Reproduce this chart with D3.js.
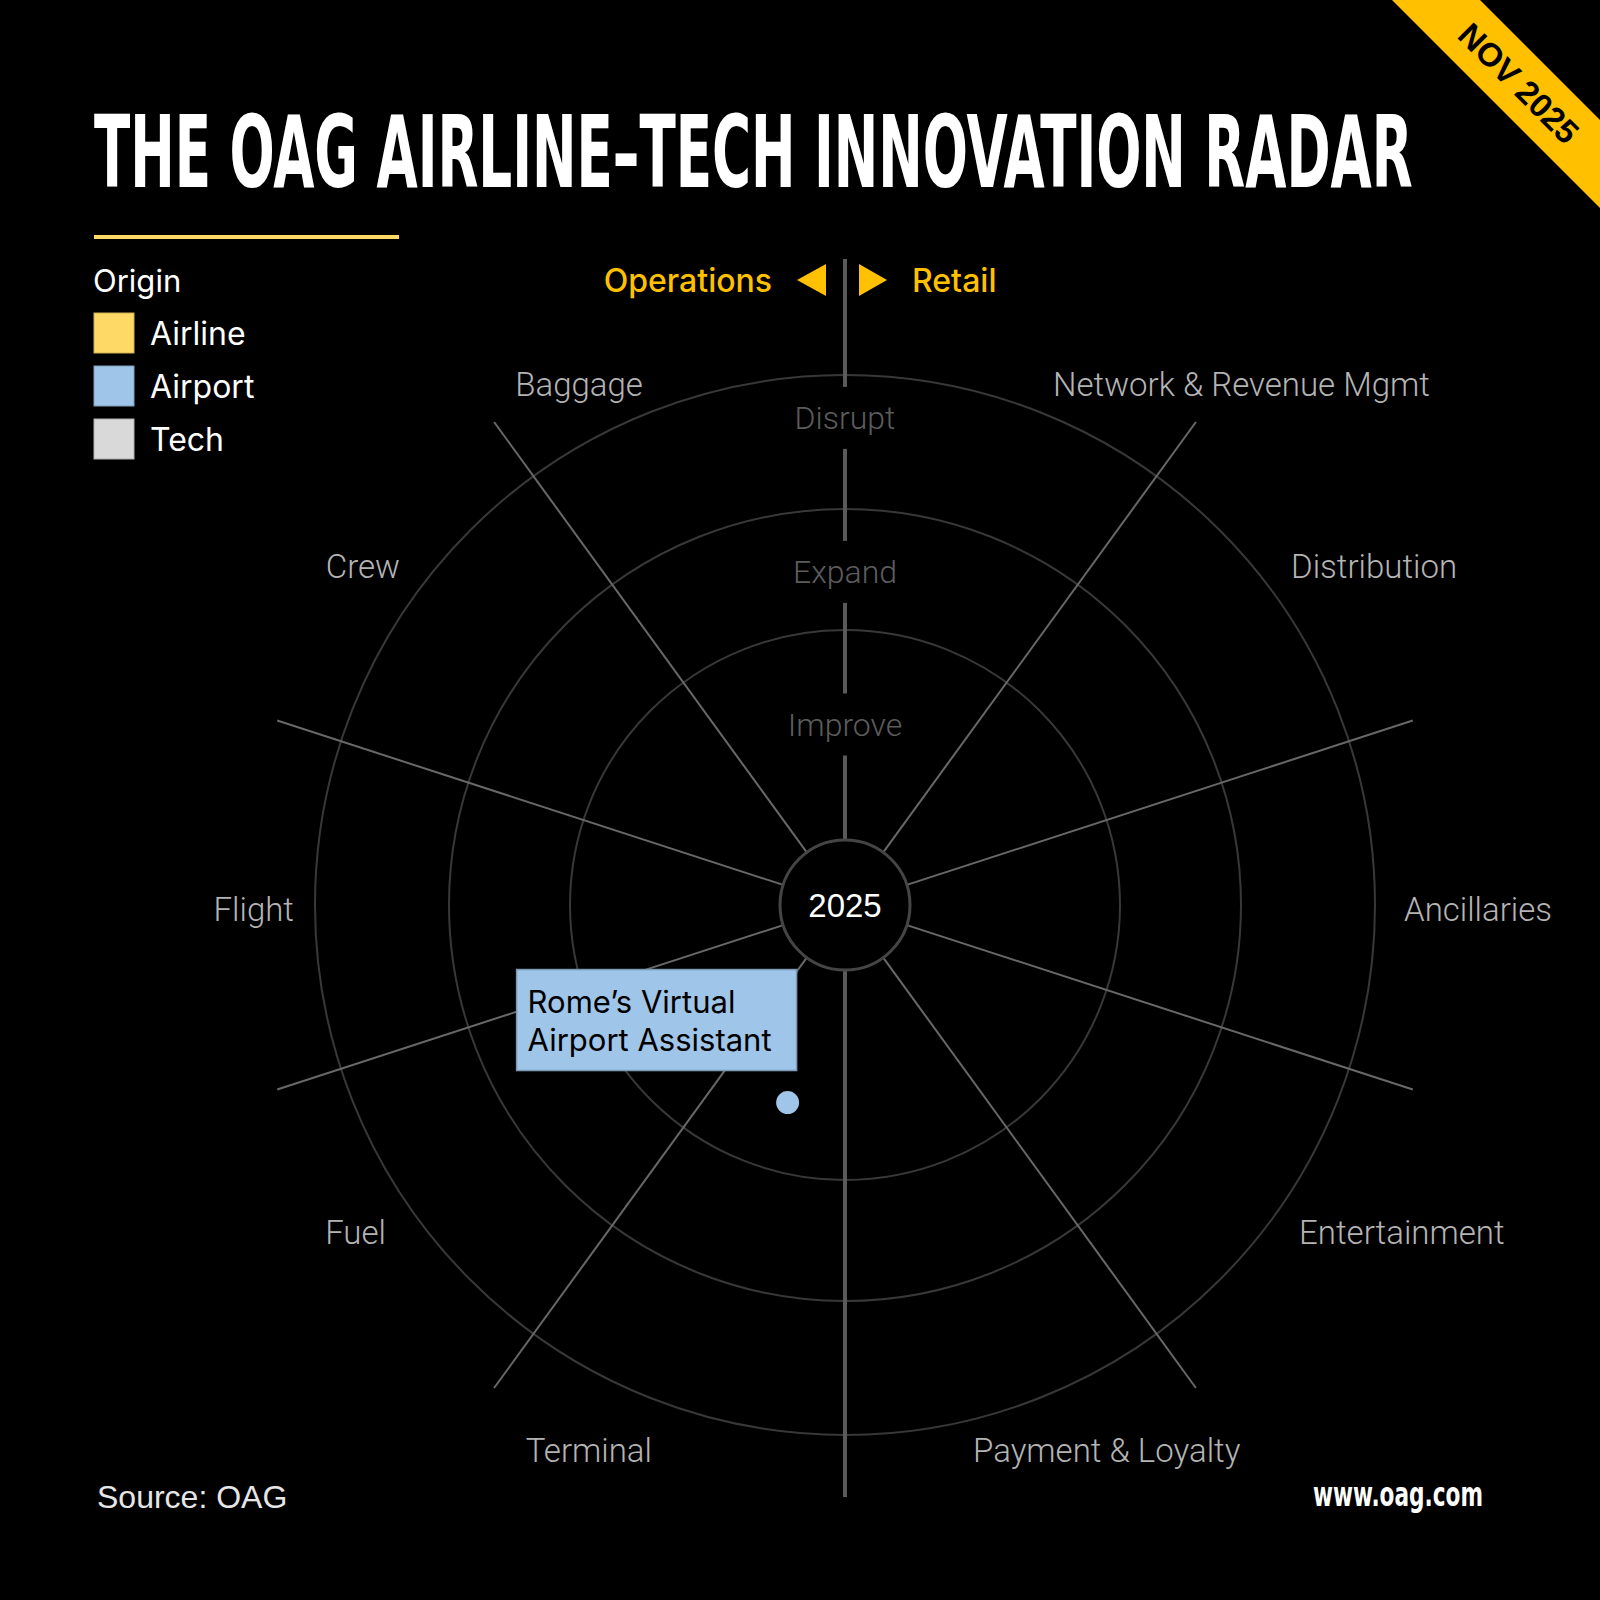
<!DOCTYPE html>
<html>
<head>
<meta charset="utf-8">
<script src="https://cdn.jsdelivr.net/npm/d3@7"></script>
<style>
  html, body { margin: 0; padding: 0; background: #000; }
  svg { display: block; }
</style>
</head>
<body>
<div id="chart"></div>
<script>
// ---------------- DATA ----------------
const categories = ["Network & Revenue Mgmt", "Distribution", "Ancillaries", "Entertainment",
  "Payment & Loyalty", "Terminal", "Fuel", "Flight", "Crew", "Baggage"];
const levels = ["Improve", "Expand", "Disrupt"];
const origins = ["Airline", "Airport", "Tech"];
const originColors = ["#FFD966", "#9FC5E8", "#D9D9D9"];
const sides = ["Operations", "Retail"];
const radarYear = ["2025"];
const edition = ["NOV 2025"];

const innovationNames = [["Rome’s Virtual", "Airport Assistant"]];
const innovationCategory = ["Terminal"];
const innovationOrigin = ["Airport"];
const innovationLevel = [0.67];   // 0..3 from centre outward across levels
const innovationSpread = [0.45];  // position inside its category sector

// ---------------- LAYOUT ----------------
const W = 1600, H = 1600;
const cx = 845, cy = 905;
const hubR = 65;
const svg = d3.select("#chart").append("svg").attr("width", W).attr("height", H)
  .style("background", "#000");

const angle = d3.scaleBand().domain(categories).range([0, 360]).paddingInner(0).paddingOuter(0);
const radius = d3.scaleLinear().domain([0, 1, 2, 3]).range([hubR, 275, 396, 530]);
const polar = (deg, r) => {
  const a = deg * Math.PI / 180;
  return [cx + r * Math.sin(a), cy - r * Math.cos(a)];
};

const fontLight = "Roboto, 'Helvetica Neue', Arial, sans-serif";
const fontUI = "Inter, 'Noto Sans', Arial, sans-serif";
const fontArial = "'Liberation Sans', Arial, sans-serif";
const fontCond = "'Liberation Sans Narrow', 'DejaVu Sans Condensed', 'Roboto Condensed', sans-serif";

// ---------------- TITLE ----------------
const titleG = svg.append("g");
const title = titleG.append("text")
  .attr("x", 0).attr("y", 0)
  .attr("font-family", fontCond).attr("font-weight", 700).attr("font-size", 100)
  .attr("fill", "#fff")
  .text("THE OAG AIRLINE–TECH INNOVATION RADAR");
const tw = title.node().getComputedTextLength() || 1319;
titleG.attr("transform", `translate(94,187) scale(${1319 / tw},1)`);

svg.append("rect").attr("x", 94).attr("y", 235).attr("width", 305).attr("height", 4)
  .attr("fill", "#FFD966");

// ribbon
svg.append("polygon")
  .attr("points", "1392,0 1480,0 1600,120 1600,208")
  .attr("fill", "#FFC000");
svg.append("text")
  .attr("transform", "translate(1519,83) rotate(45)")
  .attr("text-anchor", "middle").attr("dy", "0.36em")
  .attr("font-family", fontArial).attr("font-weight", 700).attr("font-size", 33)
  .attr("fill", "#000")
  .text(edition[0]);

// ---------------- LEGEND ----------------
svg.append("text").attr("x", 93).attr("y", 292)
  .attr("font-family", fontUI).attr("font-size", 31).attr("fill", "#fff").text("Origin");
const leg = svg.append("g").selectAll("g").data(origins).join("g")
  .attr("transform", (d, i) => `translate(94, ${313 + i * 53})`);
leg.append("rect").attr("width", 40).attr("height", 40)
  .attr("fill", (d, i) => originColors[i])
  .attr("stroke", (d, i) => d3.color(originColors[i]).darker(0.6)).attr("stroke-width", 1);
leg.append("text").attr("x", 56).attr("y", 32)
  .attr("font-family", fontUI).attr("font-size", 32).attr("fill", "#fff").text(d => d);

// ---------------- RADAR GRID ----------------
const grid = svg.append("g");
grid.selectAll("circle.ring").data([1, 2, 3]).join("circle")
  .attr("class", "ring")
  .attr("cx", cx).attr("cy", cy).attr("r", d => radius(d))
  .attr("fill", "none").attr("stroke", "#383838").attr("stroke-width", 2);

// thin spokes at sector boundaries (except the vertical divider)
const spokeLen = 597;
const spokeAngles = categories.map(c => angle(c)).filter(a => a % 180 !== 0);
grid.selectAll("line.spoke").data(spokeAngles).join("line")
  .attr("class", "spoke")
  .attr("x1", d => polar(d, hubR)[0]).attr("y1", d => polar(d, hubR)[1])
  .attr("x2", d => polar(d, spokeLen)[0]).attr("y2", d => polar(d, spokeLen)[1])
  .attr("stroke", "#686868").attr("stroke-width", 2);

// vertical divider with gaps for level labels
const levelLabelAt = [0.55, 1.48, 2.68];
const gapHalf = 31;
const topEnd = 646, bottomEnd = 592;
const stops = [hubR];
levelLabelAt.forEach(v => { stops.push(radius(v) - gapHalf, radius(v) + gapHalf); });
stops.push(topEnd);
const segs = [];
for (let i = 0; i < stops.length; i += 2) segs.push([stops[i], stops[i + 1]]);
segs.push([-hubR, -bottomEnd]);
grid.selectAll("line.divider").data(segs).join("line")
  .attr("class", "divider")
  .attr("x1", cx).attr("x2", cx)
  .attr("y1", d => cy - d[0]).attr("y2", d => cy - d[1])
  .attr("stroke", "#5a5a5a").attr("stroke-width", 4);

// level labels
grid.selectAll("text.level").data(levels).join("text")
  .attr("class", "level")
  .attr("x", cx).attr("y", (d, i) => cy - radius(levelLabelAt[i]))
  .attr("dy", "0.36em").attr("text-anchor", "middle")
  .attr("font-family", fontLight).attr("font-weight", 300).attr("font-size", 32)
  .attr("fill", "#5c5c5c").text(d => d);

// category labels
const labelR = 560;
const labelNudge = {
  "Network & Revenue Mgmt": [35, 12], "Distribution": [-7, -10], "Ancillaries": [-1, 4],
  "Entertainment": [1, -2], "Payment & Loyalty": [-45, 13], "Terminal": [-20, 13],
  "Fuel": [-6, -2], "Flight": [9, 4], "Crew": [8, -10], "Baggage": [-29, 12]
};
grid.selectAll("text.cat").data(categories).join("text")
  .attr("class", "cat")
  .each(function (d) {
    const mid = angle(d) + angle.bandwidth() / 2;
    const p = polar(mid, labelR);
    const n = labelNudge[d] || [0, 0];
    d3.select(this)
      .attr("x", p[0] + n[0]).attr("y", p[1] + n[1])
      .attr("text-anchor", mid < 180 ? "start" : "end");
  })
  .attr("dy", "0.36em")
  .attr("font-family", fontLight).attr("font-weight", 300).attr("font-size", 33)
  .attr("fill", "#b4b4b4").text(d => d);

// hub
grid.append("circle").attr("cx", cx).attr("cy", cy).attr("r", hubR)
  .attr("fill", "#000").attr("stroke", "#454545").attr("stroke-width", 3);
grid.append("text").attr("x", cx).attr("y", cy).attr("dy", "0.36em")
  .attr("text-anchor", "middle")
  .attr("font-family", fontArial).attr("font-size", 33).attr("fill", "#fff")
  .text(radarYear[0]);

// Operations / Retail header
svg.append("text").attr("x", 772).attr("y", 292).attr("text-anchor", "end")
  .attr("font-family", fontUI).attr("font-weight", 500).attr("font-size", 32)
  .attr("fill", "#FFC000").text(sides[0]);
svg.append("text").attr("x", 912).attr("y", 292).attr("text-anchor", "start")
  .attr("font-family", fontUI).attr("font-weight", 500).attr("font-size", 32)
  .attr("fill", "#FFC000").text(sides[1]);
svg.append("polygon").attr("points", `${cx - 48},280 ${cx - 19},264 ${cx - 19},296`).attr("fill", "#FFC000");
svg.append("polygon").attr("points", `${cx + 14},264 ${cx + 14},296 ${cx + 42},280`).attr("fill", "#FFC000");

// ---------------- INNOVATIONS ----------------
const pts = innovationNames.map((n, i) => {
  const a = angle(innovationCategory[i]) + angle.bandwidth() * innovationSpread[i];
  const p = polar(a, radius(innovationLevel[i]));
  return { lines: n, x: p[0], y: p[1], color: originColors[origins.indexOf(innovationOrigin[i])] };
});
const inn = svg.append("g").selectAll("g").data(pts).join("g");
inn.append("circle").attr("cx", d => d.x).attr("cy", d => d.y).attr("r", 11.5)
  .attr("fill", d => d.color);
const boxW = 280, boxH = 101;
inn.append("rect")
  .attr("x", d => d.x + 9 - boxW).attr("y", d => d.y - 32 - boxH)
  .attr("width", boxW).attr("height", boxH)
  .attr("fill", d => d.color).attr("stroke", d => d3.color(d.color).darker(0.7)).attr("stroke-width", 1.5);
inn.each(function (d) {
  const g = d3.select(this);
  d.lines.forEach((ln, j) => {
    g.append("text")
      .attr("x", d.x + 9 - boxW + 11).attr("y", d.y - 32 - boxH + 43 + j * 38)
      .attr("font-family", fontUI).attr("font-size", 31).attr("fill", "#000")
      .text(ln);
  });
});

// ---------------- FOOTER ----------------
svg.append("text").attr("x", 97).attr("y", 1508)
  .attr("font-family", fontArial).attr("font-size", 32).attr("fill", "#e6e6e6")
  .text("Source: OAG");
svg.append("text").attr("x", 1313).attr("y", 1506)
  .attr("textLength", 170).attr("lengthAdjust", "spacingAndGlyphs")
  .attr("font-family", fontCond).attr("font-weight", 700).attr("font-size", 34)
  .attr("fill", "#fff").text("www.oag.com");
</script>
</body>
</html>
